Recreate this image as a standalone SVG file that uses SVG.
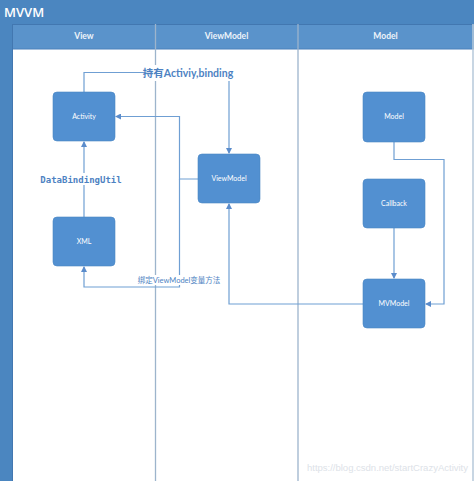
<svg xmlns="http://www.w3.org/2000/svg" width="474" height="481" viewBox="0 0 474 481">
<style>
.node rect{fill:#5290d1;stroke:#4a86c4;stroke-width:0.6}
.node text{fill:#ffffff;font-family:Lato,"Noto Sans",sans-serif;font-size:7px;text-anchor:middle}
.hdr{fill:#eef3fa;font-family:Lato,"Noto Sans",sans-serif;font-size:8.5px;font-weight:bold;text-anchor:middle}
.conn{fill:none;stroke:#6f9fd3;stroke-width:1.2}
.lane{stroke:#9db4cc;stroke-width:1.3}
.lbl{fill:#4d82c2;font-family:Lato,"Noto Sans CJK SC",sans-serif}
</style>
<defs>
<marker id="ah" markerWidth="6" markerHeight="6" refX="5" refY="3" orient="auto" markerUnits="userSpaceOnUse">
<path d="M0,0 L6,3 L0,6 z" fill="#5b8ccb"/>
</marker>
</defs>
<rect x="0" y="0" width="474" height="481" fill="#ffffff"/>
<g id="pool">
<rect x="0" y="0" width="474" height="24" fill="#4b86c0"/>
<text x="4" y="17" fill="#ffffff" font-family="'Open Sans','Noto Sans',sans-serif" font-size="13" font-weight="600">MVVM</text>
<rect x="0" y="24" width="12" height="457" fill="#4b86c0"/>
<rect x="12" y="24" width="462" height="25" fill="#5a93cb"/>
<line x1="12" y1="24.5" x2="474" y2="24.5" stroke="#4277b0" stroke-width="1"/>
<line x1="12" y1="49" x2="474" y2="49" stroke="#4a80bb" stroke-width="1"/>
<line x1="12.5" y1="24" x2="12.5" y2="481" stroke="#4277b0" stroke-width="1"/>
<line class="lane" x1="155.5" y1="24" x2="155.5" y2="481"/>
<line class="lane" x1="298" y1="24" x2="298" y2="481"/>
<line x1="473" y1="24" x2="473" y2="481" stroke="#b6c8da" stroke-width="1.5"/>
<text class="hdr" x="84" y="39">View</text>
<text class="hdr" x="226.5" y="39">ViewModel</text>
<text class="hdr" x="385.5" y="39">Model</text>
</g>
<g id="connectors">
<path class="conn" d="M84,92 V72.5 H229 V153" marker-end="url(#ah)"/>
<rect x="145" y="65" width="86" height="16" fill="#ffffff"/>
<text class="lbl" x="188" y="77" font-size="10.5" font-weight="bold" text-anchor="middle">持有Activiy,binding</text>
<path class="conn" d="M198,179 H179.5 V116.5 H116" marker-end="url(#ah)"/>
<path class="conn" d="M179.5,179 V287 H84 V267" marker-end="url(#ah)"/>
<rect x="141" y="275" width="76" height="10" fill="#ffffff"/>
<text class="lbl" x="179" y="283" font-size="7.5" text-anchor="middle" fill="#5a86bb">绑定ViewModel变量方法</text>
<path class="conn" d="M84,217 V142" marker-end="url(#ah)"/>
<rect x="40" y="173" width="82" height="12" fill="#ffffff"/>
<text x="81" y="182.5" font-family="'DejaVu Sans Mono','Liberation Mono',monospace" font-size="9" font-weight="bold" fill="#4d82c2" text-anchor="middle">DataBindingUtil</text>
<path class="conn" d="M394,142 V159.5 H444 V304 H426" marker-end="url(#ah)"/>
<path class="conn" d="M394,228 V278" marker-end="url(#ah)"/>
<path class="conn" d="M363,304 H229 V204" marker-end="url(#ah)"/>
</g>
<g id="activity" class="node"><rect x="53" y="92" width="62" height="49" rx="4"/><text x="84" y="119">Activity</text></g>
<g id="viewmodel" class="node"><rect x="198" y="154" width="62" height="49" rx="4"/><text x="229" y="181">ViewModel</text></g>
<g id="xml" class="node"><rect x="53" y="217" width="62" height="49" rx="4"/><text x="84" y="244">XML</text></g>
<g id="model" class="node"><rect x="363" y="92" width="62" height="50" rx="4"/><text x="394" y="119">Model</text></g>
<g id="callback" class="node"><rect x="363" y="179" width="62" height="49" rx="4"/><text x="394" y="206">Callback</text></g>
<g id="mvmodel" class="node"><rect x="363" y="279" width="62" height="49" rx="4"/><text x="394" y="306">MVModel</text></g>
<text x="468" y="471" font-family="'Liberation Sans',sans-serif" font-size="9.5" fill="#dde2e8" text-anchor="end">https://blog.csdn.net/startCrazyActivity</text>
</svg>
